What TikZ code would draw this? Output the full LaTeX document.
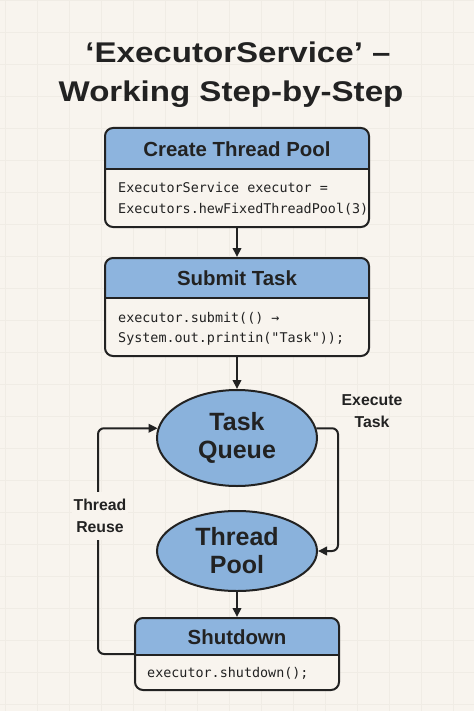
\documentclass[tikz,border=0pt]{standalone}
\usepackage{fontspec}
\setmainfont{Liberation Sans}
\newfontfamily\codefont{DejaVu Sans Mono}
\usetikzlibrary{shapes.geometric,arrows.meta,calc}
\definecolor{bg}{HTML}{F8F4EE}
\definecolor{gridc}{HTML}{F0ECE5}
\definecolor{hdr}{HTML}{8DB4DE}
\definecolor{ell}{HTML}{8AB2DC}
\definecolor{ink}{HTML}{222222}
\definecolor{bodyc}{HTML}{F8F4EE}
\begin{document}
\begin{tikzpicture}[x=1pt,y=-1pt,
  conn/.style={draw=ink, line width=2pt, -{Triangle[length=9pt,width=8.5pt]}},
  hbox/.style={rectangle, draw=ink, line width=2pt, rounded corners=8pt, fill=bodyc, inner sep=0pt,
    path picture={
      \fill[hdr, sharp corners] (path picture bounding box.north west) rectangle ([yshift=-#1]path picture bounding box.north east);
      \draw[ink, line width=1.6pt, sharp corners] ([yshift=-#1]path picture bounding box.north west) -- ([yshift=-#1]path picture bounding box.north east);
    }},
  hdrtxt/.style={inner sep=0pt, text=ink, font=\fontsize{20.4}{24}\selectfont\bfseries},
  code/.style={inner sep=0pt, text=ink, font=\codefont\fontsize{13.4}{16}\selectfont, anchor=base west},
  oval/.style={ellipse, draw=ink, line width=2pt, fill=ell, inner sep=0pt, align=center, text=ink,
    font=\fontsize{25}{28}\selectfont\bfseries},
  lbl/.style={inner sep=2pt, align=center, text=ink, font=\fontsize{15.8}{22}\selectfont\bfseries},
  ttl/.style={inner sep=0pt, text=ink, anchor=base, xscale=1.16, font=\fontsize{28.5}{34}\selectfont\bfseries}
]
\useasboundingbox (0,0) rectangle (474,711);
\fill[bg] (0,0) rectangle (474,711);
\foreach \gx in {5,37,...,469} \draw[gridc, line width=0.5pt] (\gx,0) -- (\gx,711);
\foreach \gy in {0,32,...,704} \draw[gridc, line width=0.5pt] (0,\gy) -- (474,\gy);

% title
\node[ttl] (t1) at (238,63) {‘ExecutorService’ –};
\node[ttl] (t2) at (231,102) {Working Step-by-Step};

% box 1
\node[hbox=41pt, minimum width=264pt, minimum height=99pt] (b1) at (237,177.5) {};
\node[hdrtxt] (b1h) at (237,149) {Create Thread Pool};
\node[code] (b1c1) at (118,193) {ExecutorService executor =};
\node[code] (b1c2) at (118,214) {Executors.hewFixedThreadPool(3)};

% box 2
\node[hbox=40pt, minimum width=264pt, minimum height=98pt] (b2) at (237,307) {};
\node[hdrtxt] (b2h) at (237,278) {Submit Task};
\node[code] (b2c1) at (118,322) {executor.submit(() →};
\node[code] (b2c2) at (118,342) {System.out.printin("Task"));};

% ellipses
\node[oval, minimum width=160pt, minimum height=96pt] (tq) at (237,438) {Task\\Queue};
\node[oval, minimum width=160pt, minimum height=80pt] (tp) at (237,551) {Thread\\Pool};

% shutdown
\node[hbox=37pt, minimum width=204pt, minimum height=72pt] (sd) at (237,654) {};
\node[hdrtxt] (sdh) at (237,637) {Shutdown};
\node[code] (sdc) at (147,677) {executor.shutdown();};

% connectors
\draw[conn] (b1.south) -- (b2.north);
\draw[conn] (b2.south) -- (tq.north);
\draw[conn] (tp.south) -- (sd.north);

\coordinate (er) at (338,0);
\draw[conn, rounded corners=6pt] (tq.7) -| (er |- tp.east) -- (tp.east);
\node[lbl] (exl) at (372,411) {Execute\\Task};

\coordinate (rl) at (98,0);
\draw[conn, rounded corners=6pt] (sd.west) -| (rl |- tq.173) -- (tq.173);
\node[lbl, fill=bg, inner ysep=7pt] (rul) at (100,516) {Thread\\Reuse};
\end{tikzpicture}
\end{document}
